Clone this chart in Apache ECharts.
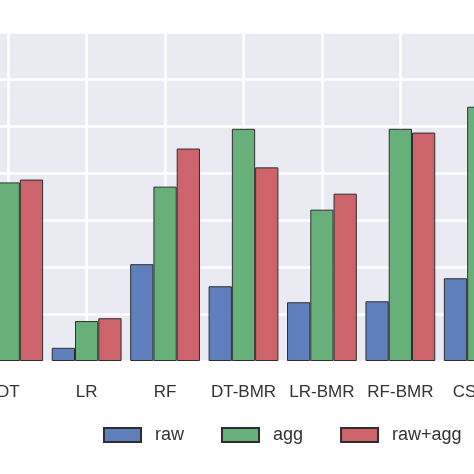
<!DOCTYPE html>
<html>
<head>
<meta charset="utf-8">
<script src="https://cdn.jsdelivr.net/npm/echarts@6/dist/echarts.min.js"></script>
<style>
  html, body { margin: 0; padding: 0; background: #fff; overflow: hidden; }
  /* the reference is cropped on both sides, so the chart is wider than the window */
  #chart { width: 549px; height: 474px; margin-left: -31px; }
</style>
</head>
<body>
<div id="chart"></div>
<script>
// categories (chart is cropped on both sides in the reference)
const categories = ['DT', 'LR', 'RF', 'DT-BMR', 'LR-BMR', 'RF-BMR', 'CS-DT'];
// bar heights (y axis in grid units, 0..7)
const rawValues = [1.6, 0.28, 2.06, 1.59, 1.25, 1.27, 1.76];
const aggValues = [3.80, 0.85, 3.71, 4.94, 3.22, 4.94, 5.41];
const rawAggValues = [3.86, 0.91, 4.52, 4.12, 3.56, 4.86, 5.0];
const seriesNames = ['raw', 'agg', 'raw+agg'];
const colors = ['#5f7fbd', '#67b07a', '#cd636b'];

const chart = echarts.init(document.getElementById('chart'));

const barStyle = (c) => ({
  color: c,
  borderColor: '#2e2e2e',
  borderWidth: 1
});

const option = {
  animation: false,
  textStyle: { fontFamily: 'Liberation Sans, Arial, sans-serif' },
  grid: {
    left: 0,
    right: 0,
    top: 32,
    bottom: 113,
    show: true,
    backgroundColor: '#eaeaf2',
    borderWidth: 0
  },
  legend: {
    data: seriesNames,
    left: 129,
    top: 421,
    itemWidth: 37,
    itemHeight: 14,
    itemGap: 37,
    icon: 'rect',
    textStyle: { fontSize: 18, color: '#333', padding: [0, 0, 0, 9] }
  },
  xAxis: {
    type: 'category',
    data: categories,
    axisLine: { show: false },
    axisTick: { show: false },
    axisLabel: { fontSize: 17, color: '#333', margin: 23, interval: 0 },
    splitLine: { show: true, interval: 0, alignWithLabel: true, lineStyle: { color: '#fff', width: 2.5 } }
  },
  yAxis: {
    type: 'value',
    min: 0,
    max: 7,
    interval: 1,
    axisLine: { show: false },
    axisTick: { show: false },
    axisLabel: { show: false },
    splitLine: { show: true, lineStyle: { color: '#fff', width: 2.5 } }
  },
  series: [
    { name: seriesNames[0], type: 'bar', data: rawValues, itemStyle: barStyle(colors[0]), barGap: '0%', barCategoryGap: '11%' },
    { name: seriesNames[1], type: 'bar', data: aggValues, itemStyle: barStyle(colors[1]) },
    { name: seriesNames[2], type: 'bar', data: rawAggValues, itemStyle: barStyle(colors[2]) }
  ]
};

chart.setOption(option);
</script>
</body>
</html>
